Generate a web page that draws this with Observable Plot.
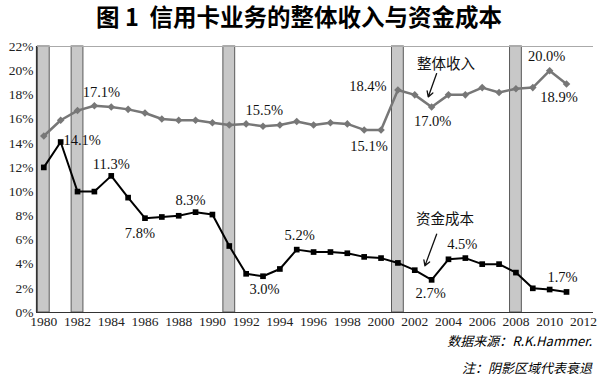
<!DOCTYPE html>
<html><head><meta charset="utf-8">
<script src="https://cdn.jsdelivr.net/npm/d3@7"></script>
<script src="https://cdn.jsdelivr.net/npm/@observablehq/plot@0.6"></script>
<style>
body{margin:0;background:#fff;}
#wrap{position:relative;width:598px;height:378px;overflow:hidden;background:#fff;}
#title{position:absolute;left:0;top:5px;width:598px;text-align:center;font-family:"Noto Sans CJK SC";font-weight:700;font-size:23.5px;line-height:23px;color:#000;white-space:pre;}
#chart{position:absolute;left:0;top:36px;}
.cap{position:absolute;right:6px;font-family:"Noto Sans CJK SC";font-style:italic;font-size:13px;line-height:13px;color:#000;}
#c1{top:334px;}
#c2{top:361px;}
</style></head>
<body><div id="wrap">
<div id="title">图 1  信用卡业务的整体收入与资金成本</div>
<div id="chart"></div>
<div class="cap" id="c1">数据来源：R.K.Hammer.</div>
<div class="cap" id="c2">注：阴影区域代表衰退</div>
</div>
<script>
const years = [1980,1981,1982,1983,1984,1985,1986,1987,1988,1989,1990,1991,1992,1993,1994,1995,1996,1997,1998,1999,2000,2001,2002,2003,2004,2005,2006,2007,2008,2009,2010,2011];
const revenue = [14.6,15.9,16.7,17.1,17.0,16.8,16.5,16.0,15.9,15.9,15.7,15.5,15.6,15.4,15.5,15.8,15.5,15.7,15.6,15.1,15.1,18.4,18.0,17.0,18.0,18.0,18.6,18.2,18.5,18.6,20.0,18.9];
const cost = [12.0,14.1,10.0,10.0,11.3,9.5,7.8,7.9,8.0,8.3,8.1,5.5,3.2,3.0,3.6,5.2,5.0,5.0,4.9,4.6,4.5,4.1,3.5,2.7,4.4,4.5,4.0,4.0,3.3,2.0,1.9,1.7];
const recessions = [1980,1982,1991,2001,2008];
const xTicks = [1980,1982,1984,1986,1988,1990,1992,1994,1996,1998,2000,2002,2004,2006,2008,2010,2012];
const yTicks = [0,2,4,6,8,10,12,14,16,18,20,22];
const revLabelYears = [1983,1991,2000,2001,2003,2010,2011];
const costLabelYears = [1981,1984,1986,1989,1993,1995,2003,2005,2011];
const seriesNames = ["整体收入","资金成本"];

// layout
const W = 598, H = 300, mL = 36, mR = 5, mT = 10, mB = 24;
const xDom = [1979.567, 2012.6], yDom = [0, 22];
const pxYear = (W - mL - mR) / (xDom[1] - xDom[0]);
const pxPct = (H - mT - mB) / (yDom[1] - yDom[0]);
const SERIF = "Liberation Serif, Times New Roman, serif";

const revRows = years.map((y, i) => ({year: y, v: revenue[i]}));
const costRows = years.map((y, i) => ({year: y, v: cost[i]}));
const valAt = (arr, yr) => arr[years.indexOf(yr)];

const revOff = {1983:[7,-13],1991:[35,-15],2000:[-12,16],2001:[-30,-4],2003:[1,14],2010:[-3,-14],2011:[-7.5,13]};
const costOff = {1981:[21.5,-2],1984:[0,-12],1986:[-5,15],1989:[-5,-12],1993:[1.5,13],1995:[3,-14],2003:[-1,14],2005:[-3,-14],2011:[-4,-15]};
const mkLabels = (ys, arr, off) => ys.map(yr => ({year: yr, v: valAt(arr, yr), t: valAt(arr, yr).toFixed(1) + "%", dx: off[yr][0], dy: off[yr][1]}));
const labels = [...mkLabels(revLabelYears, revenue, revOff), ...mkLabels(costLabelYears, cost, costOff)];

// annotations anchored to the 2003 points, offsets in pixels
const ann = [
  {name: seriesNames[0], year: 2003, v: valAt(revenue, 2003), tx: 14.3, ty: -42.7, a1: [5, -33.4], a2: [-3.4, -10]},
  {name: seriesNames[1], year: 2003, v: valAt(cost, 2003), tx: 13.3, ty: -60.7, a1: [5, -45.7], a2: [-6.7, -14]}
];

const labelMarks = labels.map(d => Plot.text([d], {x: "year", y: "v", text: "t", dx: d.dx, dy: d.dy, fontSize: 14.5, fontFamily: SERIF, fill: "#111"}));

const chart = Plot.plot({
  width: W, height: H,
  marginLeft: mL, marginRight: mR, marginTop: mT, marginBottom: mB,
  style: {fontFamily: SERIF, fontSize: "13.5px", color: "#222", background: "#fff"},
  x: {domain: xDom, axis: null},
  y: {domain: yDom, axis: null},
  marks: [
    Plot.rect(recessions, {x1: d => d - 0.35, x2: d => d + 0.35, y1: yDom[0], y2: yDom[1], fill: "#c8c8c8", stroke: "#5a5a5a", strokeWidth: 1}),
    Plot.ruleY([yDom[1]], {stroke: "#aaa", strokeWidth: 1}),
    Plot.ruleY([yDom[0]], {stroke: "#333", strokeWidth: 1.2}),
    Plot.ruleX([xDom[0]], {stroke: "#333", strokeWidth: 1.2}),
    Plot.axisY({ticks: yTicks, tickFormat: d => d + "%", tickSize: 0, tickPadding: 3, fontSize: 13.5, fontFamily: SERIF, fill: "#222", label: null}),
    Plot.axisX({ticks: xTicks, tickFormat: d => String(d), tickSize: 0, tickPadding: 4, fontSize: 13.5, fontFamily: SERIF, fill: "#222", label: null}),
    Plot.line(revRows, {x: "year", y: "v", stroke: "#777", strokeWidth: 2.5}),
    Plot.dot(revRows, {x: "year", y: "v", symbol: "diamond2", r: 3.4, fill: "#777", stroke: "none"}),
    Plot.line(costRows, {x: "year", y: "v", stroke: "#000", strokeWidth: 2}),
    Plot.dot(costRows, {x: "year", y: "v", symbol: "square", r: 3.2, fill: "#000", stroke: "none"}),
    ...labelMarks,
    Plot.text(ann, {x: d => d.year + d.tx / pxYear, y: d => d.v - d.ty / pxPct, text: "name", fontFamily: "Noto Sans CJK SC", fontSize: 14.5, fill: "#111"}),
    Plot.arrow(ann, {x1: d => d.year + d.a1[0] / pxYear, y1: d => d.v - d.a1[1] / pxPct, x2: d => d.year + d.a2[0] / pxYear, y2: d => d.v - d.a2[1] / pxPct, stroke: "#111", strokeWidth: 1.3, headLength: 7})
  ]
});
document.getElementById("chart").appendChild(chart);
</script>
</body></html>
